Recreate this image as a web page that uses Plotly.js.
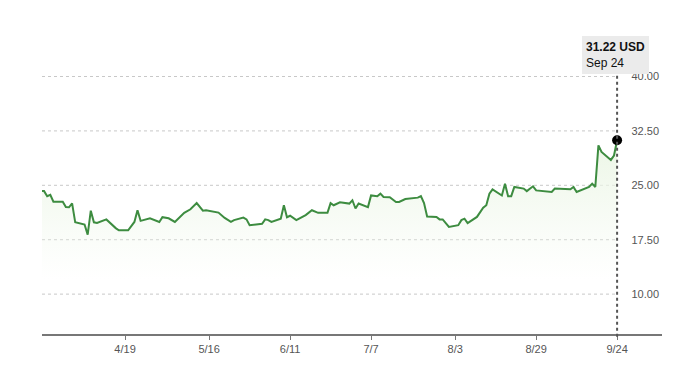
<!DOCTYPE html>
<html>
<head>
<meta charset="utf-8">
<script src="https://cdn.plot.ly/plotly-3.0.1.min.js"></script>
<style>html,body{margin:0;padding:0;background:#fff;}#chart{width:695px;height:374px;}</style>
</head>
<body>
<div id="chart"></div>
<script>
const dates = ["2024-03-23","2024-03-24","2024-03-25","2024-03-26","2024-03-27","2024-03-30","2024-03-31","2024-04-01","2024-04-02","2024-04-03","2024-04-06","2024-04-07","2024-04-08","2024-04-09","2024-04-10","2024-04-13","2024-04-16","2024-04-17","2024-04-20","2024-04-22","2024-04-23","2024-04-24","2024-04-27","2024-04-30","2024-05-01","2024-05-03","2024-05-05","2024-05-08","2024-05-10","2024-05-12","2024-05-14","2024-05-15","2024-05-19","2024-05-21","2024-05-23","2024-05-24","2024-05-27","2024-05-28","2024-05-29","2024-06-02","2024-06-03","2024-06-04","2024-06-05","2024-06-08","2024-06-09","2024-06-10","2024-06-11","2024-06-13","2024-06-16","2024-06-18","2024-06-20","2024-06-23","2024-06-24","2024-06-25","2024-06-27","2024-06-30","2024-07-01","2024-07-02","2024-07-03","2024-07-06","2024-07-07","2024-07-09","2024-07-10","2024-07-11","2024-07-13","2024-07-15","2024-07-16","2024-07-18","2024-07-22","2024-07-23","2024-07-24","2024-07-25","2024-07-28","2024-07-29","2024-07-30","2024-08-01","2024-08-04","2024-08-05","2024-08-06","2024-08-07","2024-08-10","2024-08-11","2024-08-12","2024-08-13","2024-08-14","2024-08-15","2024-08-18","2024-08-19","2024-08-20","2024-08-21","2024-08-22","2024-08-25","2024-08-26","2024-08-28","2024-08-29","2024-09-03","2024-09-04","2024-09-09","2024-09-10","2024-09-11","2024-09-15","2024-09-16","2024-09-17","2024-09-18","2024-09-19","2024-09-22","2024-09-23","2024-09-24"];
const prices = [24.2,24.2,23.5,23.7,22.75,22.75,22.0,21.97,22.5,19.9,19.6,18.2,21.5,19.9,19.8,20.3,19.1,18.8,18.8,19.95,21.56,20.1,20.45,19.95,20.6,20.45,19.95,21.2,21.7,22.55,21.5,21.56,21.24,20.5,19.95,20.2,20.55,20.3,19.5,19.7,20.3,20.2,19.95,20.4,22.25,20.6,20.8,20.2,20.9,21.56,21.2,21.2,22.55,22.25,22.66,22.48,22.94,21.8,22.48,22.0,23.6,23.5,23.85,23.4,23.35,22.7,22.7,23.1,23.3,23.5,22.55,20.7,20.64,20.3,20.3,19.26,19.5,20.2,20.4,19.8,20.64,21.3,21.9,22.25,23.85,24.45,23.6,25.23,23.5,23.5,24.77,24.55,24.2,24.86,24.3,24.08,24.55,24.45,24.77,24.08,24.77,25.23,24.77,30.5,29.6,28.5,29.1,31.22];
const tickDates = ["2024-04-19","2024-05-16","2024-06-11","2024-07-07","2024-08-03","2024-08-29","2024-09-24"];
const tickLabels = ["4/19","5/16","6/11","7/7","8/3","8/29","9/24"];
const yTicks = [10, 17.5, 25, 32.5, 40];
const currency = "USD";
const hoverDateLabel = "Sep 24";

const lastIdx = prices.length - 1;
const xRange = ["2024-03-23 08:00", "2024-10-08 10:00"];
const yRange = [4.5, 42];

const traces = [
  {
    x: dates, y: prices, type: "scatter", mode: "lines",
    line: {color: "rgb(61,140,64)", width: 2},
    fill: "tozeroy",
    fillgradient: {type: "vertical", start: 12, stop: 31,
      colorscale: [[0, "rgba(240,248,236,0)"], [1, "rgba(236,246,230,1)"]]},
    hoverinfo: "skip"
  },
  {
    x: [dates[lastIdx]], y: [prices[lastIdx]], type: "scatter", mode: "markers",
    marker: {color: "#000", size: 10}, hoverinfo: "skip"
  }
];

const shapes = yTicks.map(v => ({
  type: "line", xref: "x", yref: "y", x0: xRange[0], x1: dates[lastIdx], y0: v, y1: v,
  line: {color: "#c8c8c8", width: 1, dash: "dot"}, layer: "below"
}));
shapes.push({
  type: "line", xref: "x", yref: "paper", x0: dates[lastIdx], x1: dates[lastIdx], y0: -0.01, y1: 1,
  line: {color: "#555", width: 2, dash: "dot"}
});

const layout = {
  width: 695, height: 374,
  margin: {l: 42, r: 33, t: 61.5, b: 40},
  paper_bgcolor: "#fff", plot_bgcolor: "#fff",
  showlegend: false, hovermode: false,
  font: {family: "Liberation Sans, Arial, sans-serif", color: "#555", size: 11},
  xaxis: {
    type: "date", range: xRange, showgrid: false, zeroline: false,
    tickvals: tickDates, ticktext: tickLabels,
    ticks: "outside", ticklen: 4, tickcolor: "#777", tickwidth: 1,
    showline: true, linecolor: "#777", linewidth: 2,
    tickfont: {size: 11, color: "#555"}
  },
  yaxis: {
    range: yRange, side: "right", ticklabelposition: "inside",
    tickvals: yTicks, tickformat: ".2f", showgrid: false, zeroline: false,
    ticks: "", showline: false,
    tickfont: {size: 11, color: "#555"}
  },
  shapes: shapes,
  annotations: [{
    xref: "x", yref: "paper", x: dates[lastIdx], y: 1.0275, xanchor: "center", yanchor: "middle",
    xshift: -2,
    text: "<b>" + prices[lastIdx].toFixed(2) + " " + currency + "</b><br>" + hoverDateLabel,
    align: "left", showarrow: false,
    bgcolor: "#ebebeb", borderpad: 4, borderwidth: 0,
    font: {family: "Liberation Sans, Arial, sans-serif", size: 12, color: "#111"}
  }]
};

Plotly.newPlot("chart", traces, layout, {displayModeBar: false, staticPlot: true});
</script>
</body>
</html>
